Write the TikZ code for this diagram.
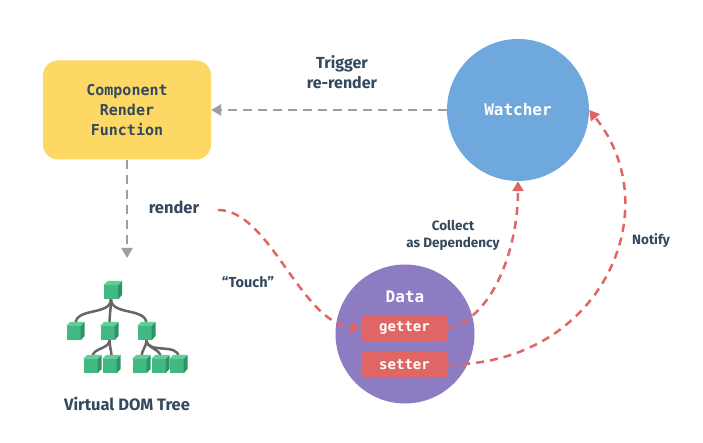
\documentclass[tikz,border=0pt]{standalone}
\usepackage{fontspec}
\setmainfont{Fira Sans}
\newfontfamily\codefont{DejaVu Sans Mono}
\usetikzlibrary{arrows.meta}
\definecolor{txt}{HTML}{34495E}
\definecolor{boxyellow}{HTML}{FDD865}
\definecolor{watchblue}{HTML}{6FA8DC}
\definecolor{datapurple}{HTML}{8E7CC3}
\definecolor{vred}{HTML}{E06666}
\definecolor{vgray}{HTML}{9E9E9E}
\definecolor{treegray}{HTML}{666666}
\definecolor{vgreen}{HTML}{42B983}
\definecolor{vgreentop}{HTML}{5FCF9A}
\definecolor{vgreenside}{HTML}{2E9466}
\newcommand\vcube[2]{%
  \node[cubefront] (#1) at (#2) {};
  \fill[vgreentop] (#1.north west) -- ++(4,-4) -- ++(14,0) -- (#1.north east) -- cycle;
  \fill[vgreenside] (#1.north east) -- ++(4,-4) -- ++(0,14) -- (#1.south east) -- cycle;
}
\tikzset{
  lbl/.style={text=txt, font=\fontsize{13.5}{17}\selectfont\bfseries, align=center, inner sep=0},
  biglbl/.style={lbl, font=\fontsize{16.5}{20}\selectfont\bfseries},
  grayarrow/.style={draw=vgray, line width=2.5pt, dash pattern=on 9pt off 6pt, -{Triangle[length=10pt,width=11pt,fill=vgray]}},
  redarrow/.style={draw=vred, line width=2.5pt, dash pattern=on 8pt off 6pt, -{Triangle[length=10pt,width=11pt,fill=vred]}},
  cubefront/.style={rectangle, fill=vgreen, minimum size=14pt, inner sep=0},
  treeline/.style={draw=treegray, line width=2.5pt},
  accessor/.style={fill=vred, rounded corners=3pt, minimum width=87pt, minimum height=25pt, inner sep=0, text=white, font=\codefont\bfseries\fontsize{14}{16}\selectfont},
}
\begin{document}
\begin{tikzpicture}[x=1pt,y=-1pt]
\useasboundingbox[fill=white] (0,0) rectangle (703,443);

% main nodes
\node[fill=boxyellow, rounded corners=15pt, minimum width=168pt, minimum height=99pt,
      text=txt, align=center, font=\codefont\bfseries\fontsize{15}{20}\selectfont]
  (render) at (127,110) {Component\\Render\\Function};
\node[circle, fill=watchblue, minimum size=142pt, inner sep=0, text=white,
      font=\codefont\bfseries\fontsize{16}{18}\selectfont]
  (watcher) at (518,110) {Watcher};
\node[circle, fill=datapurple, minimum size=139pt, inner sep=0] (data) at (405,334) {};
\node[text=white, font=\codefont\bfseries\fontsize{16}{18}\selectfont, inner sep=0] (datalbl) at (405,297) {Data};
\node[accessor] (getter) at (404.5,328.5) {getter};
\node[accessor] (setter) at (404.5,364.5) {setter};

% labels
\node[biglbl, font=\fontsize{16}{20}\selectfont\bfseries] (trig) at (342,72) {Trigger\\re-render};
\node[biglbl] (renderlbl) at (174,207) {render};
\node[lbl, font=\fontsize{14.5}{17}\selectfont\bfseries] (touch) at (248,282) {“Touch”};
\node[lbl] (collect) at (453,235) {Collect\\as Dependency};
\node[lbl] (notify) at (651,241) {Notify};
\node[biglbl] (vdomlbl) at (127,404) {Virtual DOM Tree};

% connectors
\coordinate (vdomtip) at (127,258);
\coordinate (touchstart) at (218,210);
\draw[grayarrow] (watcher.west) -- (render.east);
\draw[grayarrow] (render.south) -- (vdomtip);
\draw[redarrow] (touchstart) .. controls (270,210) and (300,322) .. (getter.west);
\draw[redarrow] (getter.east) .. controls (492,318) and (518,250) .. (watcher.south);
\draw[redarrow] (setter.east) .. controls (600,365) and (670,210) .. (watcher.east);

% tree
\coordinate (r) at (111,299);
\coordinate (m) at (109.5,340);
\coordinate (rr) at (146.5,340);
\draw[treeline] (r) to[out=-90,in=90] (75.5,324);
\draw[treeline] (r) to[out=-90,in=90] (109.5,324);
\draw[treeline] (r) to[out=-90,in=90] (146.5,324);
\draw[treeline] (m) to[out=-90,in=90] (92.5,357);
\draw[treeline] (m) to[out=-90,in=90] (111.5,357);
\draw[treeline] (rr) to[out=-90,in=90] (141.5,357);
\draw[treeline] (rr) to[out=-90,in=90] (160.5,357);
\draw[treeline] (rr) to[out=-90,in=90] (178.5,357);

\vcube{root}{111,292}
\vcube{c1}{73.5,333}
\vcube{c2}{107.5,333}
\vcube{c3}{144.5,333}
\vcube{g1}{90.5,366}
\vcube{g2}{109.5,366}
\vcube{g3}{139.5,366}
\vcube{g4}{158.5,366}
\vcube{g5}{176.5,366}
\end{tikzpicture}
\end{document}
